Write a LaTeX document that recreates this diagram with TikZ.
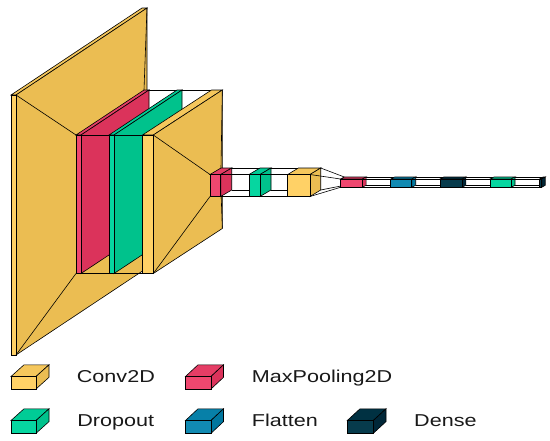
\documentclass[tikz,border=0pt]{standalone}
\usepackage{fontspec}
\setmainfont{Liberation Sans}

\definecolor{conv}{HTML}{FFD166}
\definecolor{convtop}{HTML}{F5C75C}
\definecolor{convside}{HTML}{EBBD52}
\definecolor{pool}{HTML}{EF476F}
\definecolor{pooltop}{HTML}{E53D65}
\definecolor{poolside}{HTML}{DB335B}
\definecolor{drop}{HTML}{06D6A0}
\definecolor{droptop}{HTML}{00CC96}
\definecolor{dropside}{HTML}{00C28C}
\definecolor{flat}{HTML}{118AB2}
\definecolor{flattop}{HTML}{0780A8}
\definecolor{flatside}{HTML}{00769E}
\definecolor{dense}{HTML}{073B4C}
\definecolor{densetop}{HTML}{003142}
\definecolor{denseside}{HTML}{002738}

% name, x1, x2, y1, y2, depth x, depth y
\newcommand{\layerbox}[7]{%
	\coordinate (#1-ftl) at (#2,#4);
	\coordinate (#1-ftr) at (#3,#4);
	\coordinate (#1-fbl) at (#2,#5);
	\coordinate (#1-fbr) at (#3,#5);
	\coordinate (#1-btl) at ({#2+#6},{#4-#7});
	\coordinate (#1-btr) at ({#3+#6},{#4-#7});
	\coordinate (#1-bbl) at ({#2+#6},{#5-#7});
	\coordinate (#1-bbr) at ({#3+#6},{#5-#7});
}
\newcommand{\drawbox}[2]{%
	\filldraw[fill=#2top] (#1-ftl) -- (#1-btl) -- (#1-btr) -- (#1-ftr) -- cycle;
	\filldraw[fill=#2side] (#1-ftr) -- (#1-btr) -- (#1-bbr) -- (#1-fbr) -- cycle;
	\filldraw[fill=#2] (#1-ftl) rectangle (#1-fbr);
}
\newcommand{\funnel}[2]{%
	\draw (#1-ftr) -- (#2-ftl);
	\draw (#1-btr) -- (#2-btl);
	\draw (#1-bbr) -- (#2-bbl);
	\draw (#1-fbr) -- (#2-fbl);
}

\tikzset{legendtext/.style={anchor=base west, inner sep=0pt, xscale=1.255, font=\fontsize{17.2}{20}\selectfont, text=black!90}}

\begin{document}
\begin{tikzpicture}[x=1pt, y=-1pt, line width=0.6pt]
	\useasboundingbox (0,0) rectangle (550,440);

	\layerbox{convA}{11}{16}{95}{355}{131}{87}
	\layerbox{poolA}{76}{81}{135}{273.5}{68}{45}
	\layerbox{dropA}{109}{114}{135}{273.5}{68}{45}
	\layerbox{convB}{142.5}{153.3}{135}{273.5}{69}{45}
	\layerbox{poolB}{210}{220.7}{174.5}{196.5}{11}{6.5}
	\layerbox{dropB}{249}{260}{174.5}{196.5}{11}{6.5}
	\layerbox{convC}{287.7}{310}{174.5}{196.5}{10.7}{6.5}
	\layerbox{poolC}{340.5}{362.3}{179}{187.3}{3.8}{2}
	\layerbox{flatA}{390.7}{411.7}{179}{187.3}{4}{2}
	\layerbox{denseA}{440}{462}{179}{187.3}{3.8}{2}
	\layerbox{dropC}{490}{511}{179}{187.3}{4}{2}
	\layerbox{denseB}{539.5}{541.7}{179}{187.3}{3.5}{2}

	\drawbox{convA}{conv}
	\funnel{convA}{poolA}
	\drawbox{poolA}{pool}
	\funnel{poolA}{dropA}
	\drawbox{dropA}{drop}
	\funnel{dropA}{convB}
	\drawbox{convB}{conv}
	\funnel{convB}{poolB}
	\drawbox{poolB}{pool}
	\funnel{poolB}{dropB}
	\drawbox{dropB}{drop}
	\funnel{dropB}{convC}
	\drawbox{convC}{conv}
	\funnel{convC}{poolC}
	\drawbox{poolC}{pool}
	\funnel{poolC}{flatA}
	\drawbox{flatA}{flat}
	\funnel{flatA}{denseA}
	\drawbox{denseA}{dense}
	\funnel{denseA}{dropC}
	\drawbox{dropC}{drop}
	\funnel{dropC}{denseB}
	\drawbox{denseB}{dense}

	\layerbox{keyconv}{11}{36}{376.5}{389}{13}{11.7}
	\layerbox{keypool}{185.5}{211}{376.5}{389}{12.5}{11.7}
	\layerbox{keydrop}{11}{36}{420.5}{433.3}{13}{11.7}
	\layerbox{keyflat}{185.5}{211}{420.5}{433.3}{12.5}{11.7}
	\layerbox{keydense}{347.3}{373.3}{420.5}{433.3}{12.7}{11.7}
	\drawbox{keyconv}{conv}
	\drawbox{keypool}{pool}
	\drawbox{keydrop}{drop}
	\drawbox{keyflat}{flat}
	\drawbox{keydense}{dense}

	\node[legendtext] (tconv) at (76.5,382.3) {Conv2D};
	\node[legendtext] (tpool) at (251.5,382.3) {MaxPooling2D};
	\node[legendtext] (tdrop) at (77,426.3) {Dropout};
	\node[legendtext] (tflat) at (251.5,426.3) {Flatten};
	\node[legendtext] (tdense) at (413.8,426.3) {Dense};
\end{tikzpicture}
\end{document}
